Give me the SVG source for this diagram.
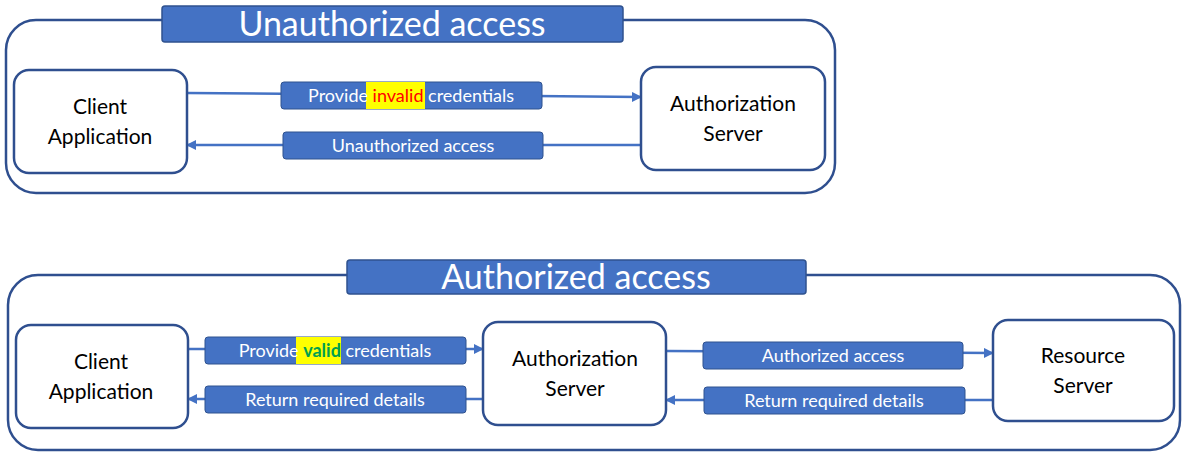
<svg xmlns="http://www.w3.org/2000/svg" width="1187" height="458" viewBox="0 0 1187 458">
<defs>
<style>
.cont{fill:#fff;stroke:#2f4f8f;stroke-width:2.5}
.title{fill:#4472c4;stroke:#2f528f;stroke-width:1.5}
.node{fill:#fff;stroke:#2f4f8f;stroke-width:2.5}
.lbl{fill:#4472c4;stroke:#2f528f;stroke-width:1}
.tt{font-family:Lato,"Open Sans",sans-serif;fill:#fff;font-size:34px;text-anchor:middle}
.nt{font-family:Lato,"Open Sans",sans-serif;fill:#000;font-size:21px;text-anchor:middle}
.lt{font-family:Lato,"Open Sans",sans-serif;fill:#fff;font-size:18px;text-anchor:middle}
.conn{stroke:#4472c4;stroke-width:2.5;fill:none;marker-end:url(#ah)}
</style>
<marker id="ah" viewBox="0 0 10 10" refX="9" refY="5" markerWidth="4" markerHeight="4" orient="auto"><path d="M0,0L10,5L0,10z" fill="#4472c4"/></marker>
</defs>
<g id="unauth-container"><rect class="cont" x="6" y="20" width="829" height="173" rx="30"/></g>
<g id="auth-container"><rect class="cont" x="8" y="275" width="1172" height="175" rx="30"/></g>
<g id="connectors">
<path class="conn" d="M187,93L641,97"/>
<path class="conn" d="M641,145L187,145"/>
<path class="conn" d="M188,349L483,349"/>
<path class="conn" d="M483,399L188,399"/>
<path class="conn" d="M666,351L993,353"/>
<path class="conn" d="M993,400L666,400"/>
</g>
<g id="unauth-title"><rect class="title" x="162" y="6" width="461" height="36" rx="3"/><text class="tt" x="392" y="36">Unauthorized access</text></g>
<g id="auth-title"><rect class="title" x="347" y="260" width="459" height="34" rx="3"/><text class="tt" x="576" y="289">Authorized access</text></g>
<g id="u-client"><rect class="node" x="14" y="70" width="173" height="103" rx="15"/><text class="nt" x="100" y="114">Client</text><text class="nt" x="100" y="144">Application</text></g>
<g id="u-auth"><rect class="node" x="641" y="67" width="184" height="103" rx="15"/><text class="nt" x="733" y="111">Authorization</text><text class="nt" x="733" y="141">Server</text></g>
<g id="u-l1"><rect class="lbl" x="281" y="82" width="261" height="27" rx="3"/><rect x="366" y="82" width="59" height="27" fill="#ffff00"/><text class="lt" x="411" y="102"><tspan>Provide </tspan><tspan fill="#ff0000">invalid</tspan><tspan> credentials</tspan></text></g>
<g id="u-l2"><rect class="lbl" x="283" y="132" width="260" height="27" rx="3"/><text class="lt" x="413" y="152">Unauthorized access</text></g>
<g id="a-client"><rect class="node" x="16" y="325" width="172" height="103" rx="15"/><text class="nt" x="101" y="369">Client</text><text class="nt" x="101" y="399">Application</text></g>
<g id="a-auth"><rect class="node" x="483" y="322" width="183" height="103" rx="15"/><text class="nt" x="575" y="366">Authorization</text><text class="nt" x="575" y="396">Server</text></g>
<g id="a-res"><rect class="node" x="993" y="320" width="181" height="101" rx="15"/><text class="nt" x="1083" y="363">Resource</text><text class="nt" x="1083" y="393">Server</text></g>
<g id="a-l1"><rect class="lbl" x="205" y="337" width="261" height="27" rx="3"/><rect x="296" y="337" width="45" height="27" fill="#ffff00"/><text class="lt" x="335" y="357"><tspan>Provide </tspan><tspan fill="#00a050" font-weight="bold">valid</tspan><tspan> credentials</tspan></text></g>
<g id="a-l2"><rect class="lbl" x="205" y="386" width="261" height="27" rx="3"/><text class="lt" x="335" y="406">Return required details</text></g>
<g id="a-l3"><rect class="lbl" x="703" y="342" width="260" height="27" rx="3"/><text class="lt" x="833" y="362">Authorized access</text></g>
<g id="a-l4"><rect class="lbl" x="704" y="387" width="261" height="27" rx="3"/><text class="lt" x="834" y="407">Return required details</text></g>
</svg>
